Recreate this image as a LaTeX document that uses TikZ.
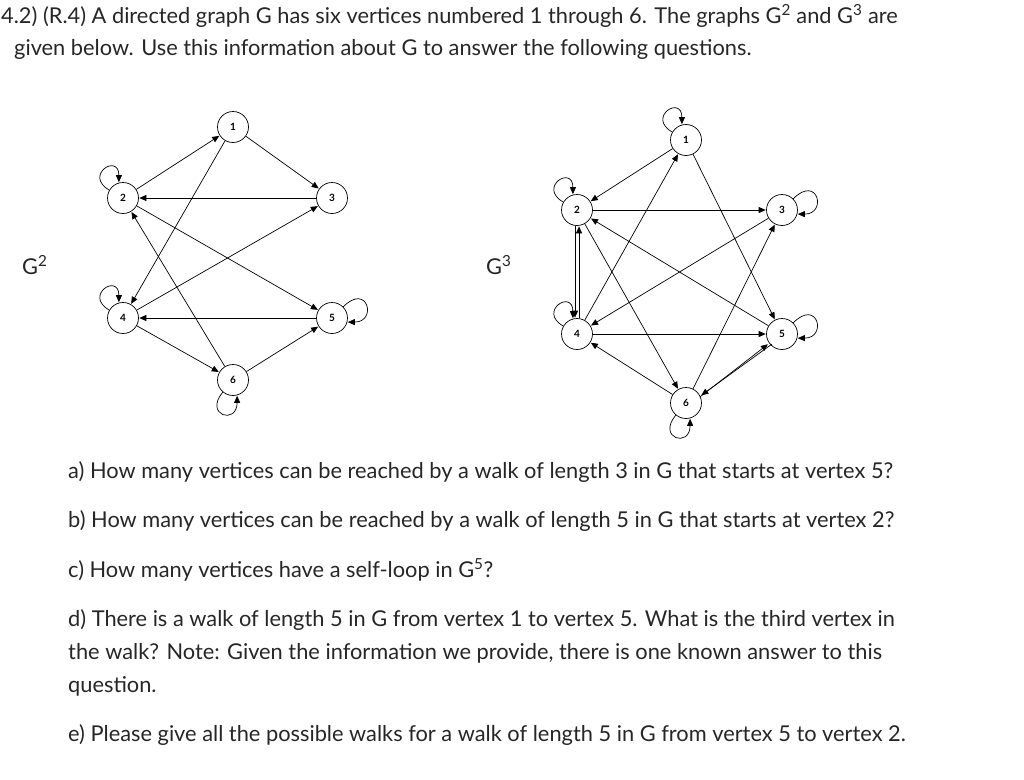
\documentclass[tikz,border=0pt]{standalone}
\usepackage{fontspec}
\setmainfont{Lato}
\usetikzlibrary{arrows.meta}
\begin{document}
\begin{tikzpicture}[x=1pt,y=-1pt,
 vtx/.style={circle,draw,fill=white,line width=0.7pt,minimum size=31pt,inner sep=0pt,font=\fontsize{10}{10}\selectfont\bfseries},
 ed/.style={-{Triangle[length=7pt,width=6pt]},line width=0.7pt,shorten >=0.5pt},
 txt/.style={anchor=west,inner sep=0pt,font=\fontsize{21.8}{26}\selectfont,color=black!85}]
\useasboundingbox (0,0) rectangle (1024,779);
\node[txt] (t1) at (1,16) {4.2) (R.4) A directed graph G has six vertices numbered 1 through 6. The graphs G\textsuperscript{2} and G\textsuperscript{3} are};
\node[txt] (t2) at (14,49) {given below. Use this information about G to answer the following questions.};
\node[txt] (g2) at (22,265) {G\textsuperscript{2}};
\node[txt] (g3) at (486,265) {G\textsuperscript{3}};
% G^2
\node[vtx] (a1) at (233,127) {1};
\node[vtx] (a2) at (123,198) {2};
\node[vtx] (a3) at (332,198) {3};
\node[vtx] (a4) at (123,318) {4};
\node[vtx] (a5) at (332,318) {5};
\node[vtx] (a6) at (233,380) {6};
\draw[ed] (a2)--(a1); \draw[ed] (a1)--(a3); \draw[ed] (a1)--(a4);
\draw[ed] (a3)--(a2); \draw[ed] (a2)--(a5); \draw[ed] (a4)--(a3);
\draw[ed] (a6)--(a2); \draw[ed] (a5)--(a4); \draw[ed] (a4)--(a6); \draw[ed] (a6)--(a5);
\draw[ed] (a2.150) .. controls +(-150:30) and +(-90:30) .. (a2.105);
\draw[ed] (a4.150) .. controls +(-150:30) and +(-90:30) .. (a4.105);
\draw[ed] (a5.45) .. controls +(-45:35) and +(0:30) .. (a5.-15);
\draw[ed] (a6.-130) .. controls +(130:30) and +(90:30) .. (a6.-75);
% G^3
\node[vtx] (b1) at (686,140) {1};
\node[vtx] (b2) at (577,210) {2};
\node[vtx] (b3) at (782,210) {3};
\node[vtx] (b4) at (577,334) {4};
\node[vtx] (b5) at (782,334) {5};
\node[vtx] (b6) at (686,403) {6};
\draw[ed] (b1)--(b2); \draw[ed] (b2)--(b3); \draw[ed] (b1)--(b5);
\draw[ed] (b3)--(b4); \draw[ed] (b4)--(b1); \draw[ed] (b5)--(b2);
\draw[ed] (b2)--(b6); \draw[ed] (b6)--(b3);
\draw[ed] ([xshift=-2pt]b2.south)--([xshift=-2pt]b4.north);
\draw[ed] ([xshift=2pt]b4.north)--([xshift=2pt]b2.south);
\draw[ed] (b4)--(b5); \draw[ed] (b6)--(b4);
\draw[ed] ([yshift=-2pt]b6.30)--([yshift=-2pt]b5.210);
\draw[ed] ([yshift=2pt]b5.230)--([yshift=2pt]b6.20);
\draw[ed] (b1.150) .. controls +(-150:30) and +(-90:30) .. (b1.105);
\draw[ed] (b2.150) .. controls +(-150:30) and +(-90:30) .. (b2.105);
\draw[ed] (b3.45) .. controls +(-45:35) and +(0:30) .. (b3.-15);
\draw[ed] (b4.150) .. controls +(-150:30) and +(-90:30) .. (b4.105);
\draw[ed] (b5.45) .. controls +(-45:35) and +(0:30) .. (b5.-15);
\draw[ed] (b6.-130) .. controls +(130:30) and +(90:30) .. (b6.-75);
% questions
\node[txt] (qa) at (68,472) {a) How many vertices can be reached by a walk of length 3 in G that starts at vertex 5?};
\node[txt] (qb) at (68,521) {b) How many vertices can be reached by a walk of length 5 in G that starts at vertex 2?};
\node[txt] (qc) at (68,570) {c) How many vertices have a self-loop in G\textsuperscript{5}?};
\node[txt] (qd1) at (68,620) {d) There is a walk of length 5 in G from vertex 1 to vertex 5. What is the third vertex in};
\node[txt] (qd2) at (68,653) {the walk? Note: Given the information we provide, there is one known answer to this};
\node[txt] (qd3) at (68,686) {question.};
\node[txt] (qe) at (68,735) {e) Please give all the possible walks for a walk of length 5 in G from vertex 5 to vertex 2.};
\end{tikzpicture}
\end{document}
